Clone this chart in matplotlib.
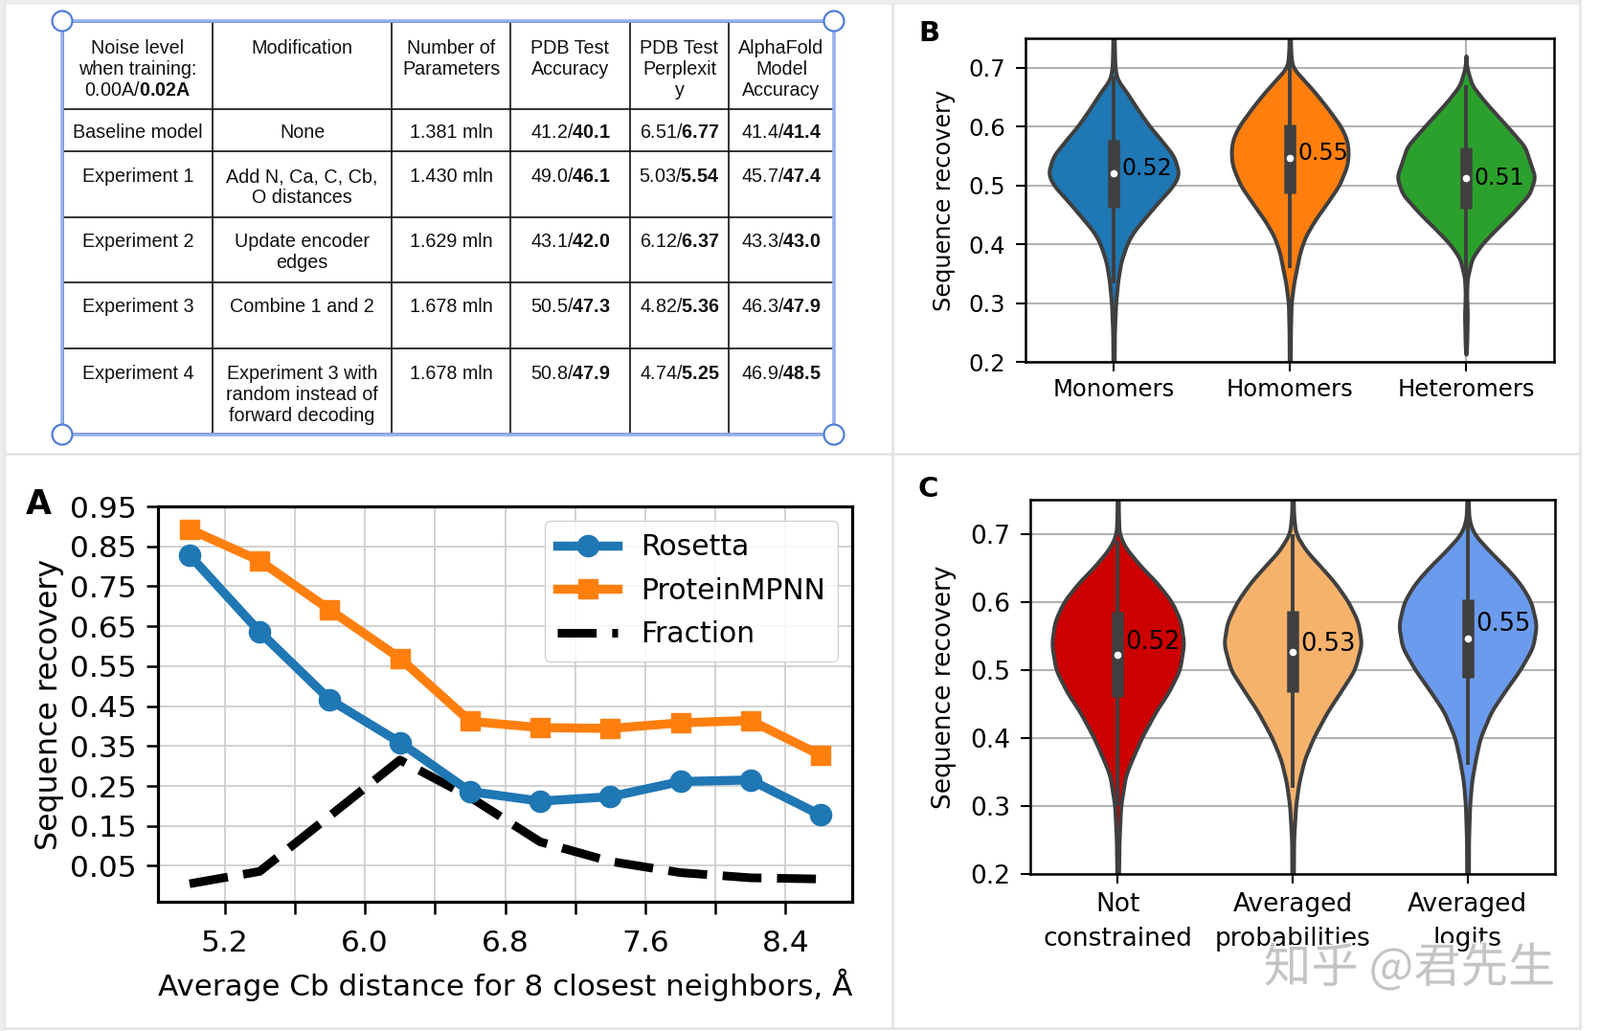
import numpy as np
import matplotlib
matplotlib.use("Agg")
import matplotlib.pyplot as plt
from matplotlib.patches import Rectangle, Circle
import matplotlib.patheffects as pe

plt.rcParams['font.family'] = ['DejaVu Sans']
plt.rcParams['mathtext.fontset'] = 'custom'
plt.rcParams['mathtext.rm'] = 'Liberation Sans'
plt.rcParams['mathtext.bf'] = 'Liberation Sans:bold'
plt.rcParams['mathtext.it'] = 'Liberation Sans:italic'

# ---------------- data ----------------
# Table
table_header = ["Noise level\nwhen training:\n0.00A/$\\mathbf{0.02A}$", "Modification",
                "Number of\nParameters", "PDB Test\nAccuracy", "PDB Test\nPerplexit\ny",
                "AlphaFold\nModel\nAccuracy"]
row_names = ["Baseline model", "Experiment 1", "Experiment 2", "Experiment 3", "Experiment 4"]
modifications = ["None", "Add N, Ca, C, Cb,\nO distances", "Update encoder\nedges",
                 "Combine 1 and 2", "Experiment 3 with\nrandom instead of\nforward decoding"]
n_params = [1.381, 1.430, 1.629, 1.678, 1.678]
pdb_acc_000 = [41.2, 49.0, 43.1, 50.5, 50.8]
pdb_acc_002 = [40.1, 46.1, 42.0, 47.3, 47.9]
pdb_ppl_000 = [6.51, 5.03, 6.12, 4.82, 4.74]
pdb_ppl_002 = [6.77, 5.54, 6.37, 5.36, 5.25]
af_acc_000 = [41.4, 45.7, 43.3, 46.3, 46.9]
af_acc_002 = [41.4, 47.4, 43.0, 47.9, 48.5]

# Panel A
cb_dist = [5.0, 5.4, 5.8, 6.2, 6.6, 7.0, 7.4, 7.8, 8.2, 8.6]
rosetta = [0.828, 0.636, 0.466, 0.359, 0.236, 0.212, 0.223, 0.261, 0.265, 0.177]
protein_mpnn = [0.893, 0.814, 0.691, 0.570, 0.412, 0.396, 0.394, 0.408, 0.414, 0.327]
fraction = [0.005, 0.036, 0.175, 0.315, 0.222, 0.110, 0.061, 0.033, 0.020, 0.017]

# Panel B (violin profiles: y level, half width)
b_categories = ["Monomers", "Homomers", "Heteromers"]
b_colors = ["#1f77b4", "#ff7f0e", "#2ca02c"]
b_prof_y = [
    [0.18, 0.25, 0.30, 0.34, 0.37, 0.40, 0.42, 0.44, 0.47, 0.50, 0.52, 0.55, 0.58, 0.60, 0.63, 0.66, 0.68, 0.70, 0.73, 0.78],
    [0.18, 0.25, 0.30, 0.333, 0.36, 0.387, 0.414, 0.441, 0.468, 0.50, 0.533, 0.555, 0.577, 0.60, 0.631, 0.658, 0.685, 0.70, 0.712, 0.73, 0.78],
    [0.213, 0.224, 0.25, 0.278, 0.316, 0.343, 0.376, 0.40, 0.425, 0.452, 0.485, 0.514, 0.566, 0.60, 0.642, 0.67, 0.70, 0.72],
]
b_prof_w = [
    [0.003, 0.005, 0.012, 0.025, 0.042, 0.075, 0.11, 0.165, 0.25, 0.34, 0.372, 0.342, 0.262, 0.205, 0.135, 0.07, 0.02, 0.008, 0.005, 0.003],
    [0.003, 0.004, 0.008, 0.022, 0.04, 0.058, 0.09, 0.143, 0.207, 0.28, 0.325, 0.333, 0.325, 0.29, 0.215, 0.143, 0.062, 0.017, 0.01, 0.005, 0.003],
    [0.0, 0.004, 0.006, 0.008, 0.004, 0.008, 0.035, 0.09, 0.17, 0.262, 0.36, 0.392, 0.334, 0.235, 0.108, 0.035, 0.005, 0.0],
]
b_q1 = [0.462, 0.487, 0.460]
b_median = [0.520, 0.546, 0.513]
b_q3 = [0.578, 0.604, 0.565]
b_wlo = [0.333, 0.360, 0.345]
b_whi = [0.685, 0.715, 0.670]
b_label_y = [0.528, 0.555, 0.513]

# Panel C
c_categories = ["Not\nconstrained", "Averaged\nprobabilities", "Averaged\nlogits"]
c_colors = ["#cc0000", "#f6b26b", "#6a9bec"]
c_prof_y = [
    [0.18, 0.25, 0.30, 0.345, 0.368, 0.40, 0.439, 0.467, 0.50, 0.538, 0.571, 0.60, 0.627, 0.651, 0.679, 0.70, 0.73, 0.78],
    [0.18, 0.25, 0.30, 0.335, 0.368, 0.40, 0.439, 0.467, 0.50, 0.538, 0.571, 0.60, 0.627, 0.651, 0.674, 0.70, 0.73, 0.78],
    [0.18, 0.25, 0.30, 0.335, 0.368, 0.40, 0.439, 0.467, 0.50, 0.533, 0.566, 0.60, 0.627, 0.651, 0.674, 0.70, 0.721, 0.75, 0.78],
]
c_prof_w = [
    [0.004, 0.008, 0.017, 0.045, 0.081, 0.136, 0.218, 0.29, 0.354, 0.378, 0.36, 0.309, 0.227, 0.136, 0.045, 0.008, 0.004, 0.003],
    [0.004, 0.006, 0.017, 0.036, 0.067, 0.118, 0.20, 0.272, 0.354, 0.394, 0.373, 0.318, 0.245, 0.163, 0.08, 0.017, 0.005, 0.003],
    [0.005, 0.006, 0.012, 0.023, 0.045, 0.072, 0.136, 0.209, 0.30, 0.373, 0.394, 0.363, 0.30, 0.218, 0.127, 0.036, 0.008, 0.004, 0.003],
]
c_q1 = [0.460, 0.467, 0.488]
c_median = [0.522, 0.527, 0.546]
c_q3 = [0.585, 0.587, 0.604]
c_wlo = [0.300, 0.326, 0.360]
c_whi = [0.690, 0.700, 0.720]
c_label_y = [0.540, 0.538, 0.567]

# ---------------- figure ----------------
W, H = 1671, 1077
fig = plt.figure(figsize=(W / 100, H / 100), dpi=100)
fig.patch.set_facecolor("white")


def fr(x0, y0, x1, y1):
    return [x0 / W, 1 - y1 / H, (x1 - x0) / W, (y1 - y0) / H]


bg = fig.add_axes([0, 0, 1, 1])
bg.set_xlim(0, W)
bg.set_ylim(H, 0)
bg.axis("off")

# panel frames
gray = "#e3e3e3"
bg.add_patch(Rectangle((0, 0), 1650, 5, color="#ededed", lw=0))
bg.add_patch(Rectangle((0, 0), 5, H, color="#ededed", lw=0))
bg.plot([932, 932], [5, 1074], color=gray, lw=1.8)
bg.plot([5, 1650], [474, 474], color=gray, lw=1.8)
bg.plot([1650, 1650], [0, 1074], color=gray, lw=1.8)
bg.plot([5, 1650], [1074, 1074], color=gray, lw=1.8)
bg.plot([5, 5], [5, 1074], color=gray, lw=1.2)

# ---------------- table ----------------
col_x = [66, 222, 409, 533, 658, 761, 871]
row_y = [23, 114, 158, 227, 295, 364, 453]
for x in col_x:
    bg.plot([x, x], [row_y[0], row_y[-1]], color="#111111", lw=1.2, zorder=2)
for y in row_y:
    bg.plot([col_x[0], col_x[-1]], [y, y], color="#111111", lw=1.2, zorder=2)

bg.add_patch(Rectangle((65, 22), 806, 432, fill=False, edgecolor="#93b1ea", lw=2.6, zorder=3))
for (cx, cy) in [(65, 22), (871, 22), (65, 454), (871, 454)]:
    bg.add_patch(Circle((cx, cy), 10.5, facecolor="white", edgecolor="#4f7fd6", lw=1.6, zorder=4))

LS = 22.0


def cell(ci, yc, text):
    cx = (col_x[ci] + col_x[ci + 1]) / 2
    for k, line in enumerate(text.split("\n")):
        bg.text(cx, yc + k * LS, line, ha="center", va="center", fontsize=14.2,
                family="Liberation Sans", color="#111111", zorder=5)


for ci, t in enumerate(table_header):
    cell(ci, 50, t)

first_line = [139, 185, 253, 321, 390]
for r in range(5):
    yc = first_line[r]
    cell(0, yc, row_names[r])
    cell(1, yc, modifications[r])
    cell(2, yc, f"{n_params[r]:.3f} mln")
    cell(3, yc, f"{pdb_acc_000[r]:.1f}/$\\mathbf{{{pdb_acc_002[r]:.1f}}}$")
    cell(4, yc, f"{pdb_ppl_000[r]:.2f}/$\\mathbf{{{pdb_ppl_002[r]:.2f}}}$")
    cell(5, yc, f"{af_acc_000[r]:.1f}/$\\mathbf{{{af_acc_002[r]:.1f}}}$")

# ---------------- panel A ----------------
axA = fig.add_axes(fr(165, 529, 890, 942))
axA.plot(cb_dist, fraction, color="black", lw=6.5, dashes=(4.5, 1.8), label="Fraction", zorder=3)
axA.plot(cb_dist, protein_mpnn, "-s", color="#ff7f0e", lw=6.8, ms=15, label="ProteinMPNN", zorder=4)
axA.plot(cb_dist, rosetta, "-o", color="#1f77b4", lw=6.8, ms=16, label="Rosetta", zorder=5)
axA.set_xlim(4.82, 8.78)
axA.set_ylim(-0.04, 0.95)
xt = np.round(np.arange(5.2, 8.41, 0.4), 1)
axA.set_xticks(xt)
axA.set_xticklabels([f"{v:.1f}" if i % 2 == 0 else "" for i, v in enumerate(xt)])
yt = np.round(np.arange(0.05, 0.96, 0.1), 2)
axA.set_yticks(yt)
axA.set_yticklabels([f"{v:.2f}" for v in yt])
axA.grid(True, color="#cfcfcf", lw=1.3)
axA.set_axisbelow(True)
axA.tick_params(axis="both", labelsize=22.5, length=9, width=1.8)
axA.tick_params(axis="x", pad=12)
axA.tick_params(axis="y", pad=7)
for s in axA.spines.values():
    s.set_linewidth(2.3)
axA.set_xlabel("Average Cb distance for 8 closest neighbors, Å", fontsize=22.3, labelpad=8)
axA.set_ylabel("Sequence recovery", fontsize=22.8, labelpad=4)
h, l = axA.get_legend_handles_labels()
order = [2, 1, 0]
axA.legend([h[i] for i in order], [l[i] for i in order], loc="upper right", fontsize=21.5,
           handlelength=2.1, handletextpad=0.8, edgecolor="#cccccc", framealpha=0.85,
           borderpad=0.45, labelspacing=0.55)
fig.text(40 / W, 1 - 527 / H, "A", fontsize=25, fontweight="bold", ha="center", va="center")


# ---------------- violin helper ----------------
def violins(ax, prof_y, prof_w, colors, q1, med, q3, wlo, whi, label_y, fs):
    for i in range(len(colors)):
        ys = np.array(prof_y[i])
        ws = np.array(prof_w[i])
        yy = np.linspace(ys.min(), ys.max(), 600)
        ww = np.interp(yy, ys, ws)
        k = 21
        ww = np.convolve(np.pad(ww, k // 2, mode="edge"), np.ones(k) / k, mode="valid")
        ax.fill_betweenx(yy, i - ww, i + ww, facecolor=colors[i], edgecolor="#3f3f3f",
                         lw=2.9, zorder=2)
        ax.plot([i, i], [wlo[i], whi[i]], color="#3f3f3f", lw=2.8, zorder=3,
                solid_capstyle="butt")
        ax.plot([i, i], [q1[i], q3[i]], color="#3f3f3f", lw=9, zorder=4,
                solid_capstyle="butt")
        ax.plot([i], [med[i]], "o", color="white", ms=4.5, zorder=5, mec="white")
        ax.text(i + 0.045, label_y[i], f"{med[i]:.2f}", ha="left", va="center",
                fontsize=fs, color="black", zorder=6)


def style_violin_axes(ax, labels, fs, ylab_fs):
    ax.set_xlim(-0.5, 2.5)
    ax.set_ylim(0.2, 0.75)
    ax.set_xticks(range(3))
    ax.set_xticklabels(labels, linespacing=1.5)
    ax.set_yticks([0.2, 0.3, 0.4, 0.5, 0.6, 0.7])
    ax.set_yticklabels(["0.2", "0.3", "0.4", "0.5", "0.6", "0.7"])
    ax.grid(True, color="#b3b3b3", lw=1.5)
    ax.set_axisbelow(True)
    ax.tick_params(axis="both", labelsize=fs, length=7, width=1.5)
    ax.tick_params(axis="y", pad=8)
    for s in ax.spines.values():
        s.set_linewidth(1.8)
    ax.set_ylabel("Sequence recovery", fontsize=ylab_fs, labelpad=10)


# ---------------- panel B ----------------
axB = fig.add_axes(fr(1071, 40, 1623, 378))
violins(axB, b_prof_y, b_prof_w, b_colors, b_q1, b_median, b_q3, b_wlo, b_whi, b_label_y, 17)
style_violin_axes(axB, b_categories, 17.5, 17.3)
axB.tick_params(axis="x", pad=5)
fig.text(970 / W, 1 - 35 / H, "B", fontsize=21, fontweight="bold", ha="center", va="center")

# ---------------- panel C ----------------
axC = fig.add_axes(fr(1076, 522, 1624, 913))
violins(axC, c_prof_y, c_prof_w, c_colors, c_q1, c_median, c_q3, c_wlo, c_whi, c_label_y, 18.5)
style_violin_axes(axC, c_categories, 19, 19)
axC.tick_params(axis="x", pad=7)
fig.text(969 / W, 1 - 511 / H, "C", fontsize=21, fontweight="bold", ha="center", va="center")

# watermark
fig.text(1320 / W, 1 - 1012 / H, "知乎 @君先生", fontsize=35.5, color="#c4c4c4",
         family=["Noto Sans CJK SC", "DejaVu Sans"], ha="left", va="center", zorder=20,
         path_effects=[pe.withStroke(linewidth=2.5, foreground="white")])

fig.savefig("out.png", dpi=100, facecolor="white")
